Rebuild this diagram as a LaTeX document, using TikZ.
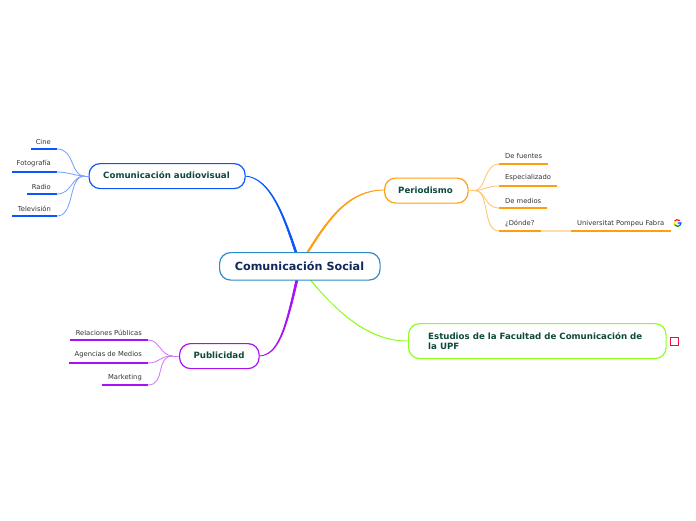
\documentclass[tikz,border=0pt]{standalone}
\usepackage{fontspec}
\setmainfont{DejaVu Sans}
\usetikzlibrary{calc}
\definecolor{cmain}{HTML}{2E8BC9}
\definecolor{cblue}{HTML}{0B55FF}
\definecolor{corange}{HTML}{FF9E0F}
\definecolor{cgreen}{HTML}{8CFF1A}
\definecolor{cpurple}{HTML}{A811F5}
\definecolor{cred}{HTML}{E8153B}
\definecolor{tnavy}{HTML}{10295A}
\definecolor{tgreen}{HTML}{0E4A3B}
\definecolor{tleaf}{HTML}{333333}
\tikzset{
  x=1pt,y=-1pt,
  box/.style={draw,fill=white,rounded corners=11pt,line width=1.2pt,inner sep=0pt,anchor=north west,align=center},
  branchtext/.style={font=\fontsize{8.65}{10}\selectfont\bfseries,text=tgreen},
  leaftxtr/.style={font=\fontsize{6.75}{8}\selectfont,text=tleaf,anchor=east,inner sep=0pt},
  leaftxtl/.style={font=\fontsize{6.75}{8}\selectfont,text=tleaf,anchor=west,inner sep=0pt},
  under/.style={line width=2pt},
  twig/.style={line width=.85pt},
  limb/.style={line width=.8pt,line join=round},
}
\begin{document}
\begin{tikzpicture}
\useasboundingbox (0,0) rectangle (696,520);
% anchors on the central node
\coordinate (mB) at (296,252.5);
\coordinate (mO) at (307.5,252.5);
\coordinate (mG) at (310,279.5);
\coordinate (mP) at (297,279.5);
% twig ends
\foreach \n/\xa/\xb/\yy in {ci/31/57/149,fo/12/57/172,ra/27/57/194,te/12/57/216,
  re/70/148/340,ag/69/148/363,ma/102/148/385,
  fu/499/548/164,es/499/557/186,me/499/547/208,do/499/541/231,un/571/671/231}{
  \coordinate (\n a) at (\xa,\yy);
  \coordinate (\n b) at (\xb,\yy);
}
% main branches (tapered)
\filldraw[limb,cblue] (245,176) .. controls (270,178) and (283,215) .. ($(mB)+(-1,0)$) -- ($(mB)+(1,0)$) .. controls (284,215) and (270.5,177.6) .. (245,176) -- cycle;
\filldraw[limb,corange] (384,190) .. controls (350,190) and (330,215) .. ($(mO)+(-.8,0)$) -- ($(mO)+(.8,0)$) .. controls (331,215.6) and (350.5,190.5) .. (384,190) -- cycle;
\filldraw[limb,cgreen] (408,341) .. controls (370,341) and (340,315) .. ($(mG)+(-.5,-.2)$) -- ($(mG)+(.5,.2)$) .. controls (340,315.6) and (370,341.4) .. (408,341) -- cycle;
\filldraw[limb,cpurple] (259,356) .. controls (278,355) and (285,330) .. ($(mP)+(-1,0)$) -- ($(mP)+(1,0)$) .. controls (286,330) and (278.6,355.4) .. (259,356) -- cycle;
% nodes
\node[box,draw=cmain,minimum width=160.5pt,minimum height=27.5pt] (main) at (219,252) {};
\node[font=\fontsize{11.2}{12}\selectfont\bfseries,text=tnavy,inner sep=0pt] (maint) at (299.5,266) {Comunicación Social};
\node[box,draw=cblue,minimum width=156pt,minimum height=25pt] (aud) at (88.5,163) {};
\node[branchtext,inner sep=0pt] (audt) at (166.5,175.5) {Comunicación audiovisual};
\node[box,draw=corange,minimum width=83.5pt,minimum height=25pt] (per) at (384,177.5) {};
\node[branchtext,inner sep=0pt] (pert) at (425.5,190) {Periodismo};
\node[box,draw=cpurple,minimum width=79.5pt,minimum height=25pt] (pub) at (179,343) {};
\node[branchtext,inner sep=0pt] (pubt) at (219,355.5) {Publicidad};
\node[box,draw=cgreen,minimum width=257.5pt,minimum height=35pt] (est) at (408,323) {};
\node[branchtext,anchor=west,align=left,inner sep=0pt] (estt) at (428,341) {Estudios de la Facultad de Comunicación de\\la UPF};
\node[draw=cred,line width=1.1pt,minimum size=7.5pt,inner sep=0pt,anchor=north west] (sq) at (670,337) {};
% twigs: audiovisual
\begin{scope}[twig,draw=cblue!55!white]
\draw (aud.west) -- ++(-4,0) coordinate (audj);
\draw (cib) .. controls (75,149) and (70,175.5) .. (audj);
\draw (fob) .. controls (68,172) and (74,175.5) .. (audj);
\draw (rab) .. controls (72,194) and (72,175.5) .. (audj);
\draw (teb) .. controls (75,216) and (68,175.5) .. (audj);
\end{scope}
% twigs: periodismo
\begin{scope}[twig,draw=corange!60!white]
\draw (per.east) -- ++(6,0) coordinate (perj);
\draw (perj) .. controls (486,190) and (484,164) .. (fua);
\draw (perj) .. controls (485,190) and (487,186) .. (esa);
\draw (perj) .. controls (486,190) and (484,208) .. (mea);
\draw (perj) .. controls (490,190) and (482,231) .. (doa);
\draw[line width=1.2pt,draw=corange!35!white] (dob) -- (una);
\end{scope}
% twigs: publicidad
\begin{scope}[twig,draw=cpurple!55!white]
\draw (pub.west) -- ++(-6,0) coordinate (pubj);
\draw (reb) .. controls (160,340) and (160,355.5) .. (pubj);
\draw (agb) .. controls (160,363) and (160,355.5) .. (pubj);
\draw (mab) .. controls (166,385) and (155,355.5) .. (pubj);
\end{scope}
% underlines
\foreach \n in {ci,fo,ra,te} \draw[under,cblue] (\n a) -- (\n b);
\foreach \n in {fu,es,me,do,un} \draw[under,corange] (\n a) -- (\n b);
\foreach \n in {re,ag,ma} \draw[under,cpurple] (\n a) -- (\n b);
% labels
\node[leaftxtr] (cit) at (51,141.5) {Cine};
\node[leaftxtr] (fot) at (51,163.5) {Fotografía};
\node[leaftxtr] (rat) at (51,186.5) {Radio};
\node[leaftxtr] (tet) at (51,208.5) {Televisión};
\node[leaftxtr] (ret) at (142,332.5) {Relaciones Públicas};
\node[leaftxtr] (agt) at (142,354.5) {Agencias de Medios};
\node[leaftxtr] (mat) at (142,377.5) {Marketing};
\node[leaftxtl] (fut) at (505,155.5) {De fuentes};
\node[leaftxtl] (est2) at (505,178) {Especializado};
\node[leaftxtl] (met) at (505,200.5) {De medios};
\node[leaftxtl] (dot) at (505,223.5) {¿Dónde?};
\node[leaftxtl] (unt) at (577,223.5) {Universitat Pompeu Fabra};
% google icon
\begin{scope}[line width=1.2pt]
\coordinate (g) at (677.5,223);
\draw[red!80!orange] ($(g)+(2.4,-2.4)$) arc[start angle=-45,end angle=-150,radius=3.4];
\draw[yellow!85!orange] ($(g)+(-2.95,-1.7)$) arc[start angle=-150,end angle=-210,radius=3.4];
\draw[green!60!black] ($(g)+(-2.95,1.7)$) arc[start angle=-210,end angle=-310,radius=3.4];
\draw[blue!70!cyan] ($(g)+(2.2,2.6)$) arc[start angle=-310,end angle=-360,radius=3.4] -- ++(-3.2,0);
\end{scope}
\end{tikzpicture}
\end{document}
